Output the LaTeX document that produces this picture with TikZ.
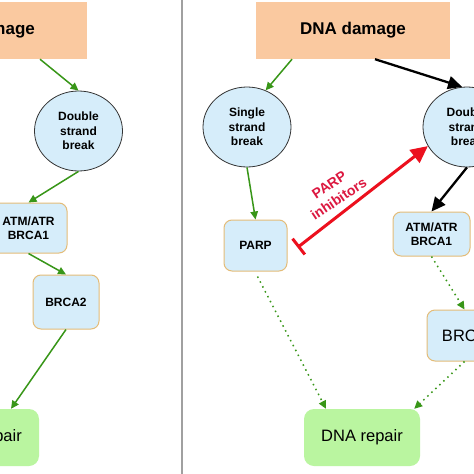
\documentclass[tikz,border=0pt]{standalone}
\usepackage{fontspec}
\setmainfont{Liberation Sans}
\usetikzlibrary{shapes.geometric,arrows.meta}
\definecolor{peach}{RGB}{250,201,160}
\definecolor{lblue}{RGB}{214,237,250}
\definecolor{tan}{RGB}{228,188,120}
\definecolor{lgreen}{RGB}{186,245,160}
\definecolor{agreen}{RGB}{56,150,24}
\definecolor{ared}{RGB}{236,16,30}
\definecolor{crim}{RGB}{220,24,64}
\definecolor{divg}{RGB}{160,160,160}
\tikzset{
  dmgbox/.style={rectangle, fill=peach, minimum width=194pt, minimum height=57pt, inner sep=0pt,
    font=\fontsize{17}{20}\selectfont\bfseries},
  brk/.style={ellipse, fill=lblue, draw=black!80, line width=0.8pt, minimum width=88pt, minimum height=80pt,
    inner sep=0pt, align=center, font=\fontsize{12}{14.5}\selectfont\bfseries},
  protbox/.style={rectangle, rounded corners=8pt, fill=lblue, draw=tan, line width=1pt, inner sep=0pt,
    align=center, font=\fontsize{12}{14}\selectfont\bfseries},
  repbox/.style={rectangle, rounded corners=10pt, fill=lgreen, minimum width=116pt, minimum height=57pt,
    inner sep=0pt, font=\fontsize{16.5}{19}\selectfont},
  garrow/.style={draw=agreen, line width=1.5pt, -{Triangle[length=8pt,width=7.5pt]}},
  gdots/.style={draw=agreen, line width=1.5pt, dash pattern=on 1.5pt off 4pt, -{Triangle[length=8pt,width=7.5pt]}},
  karrow/.style={draw=black, line width=2.3pt, -{Triangle[length=14pt,width=13pt]}},
}
\begin{document}
\begin{tikzpicture}[x=1pt,y=-1pt]
\useasboundingbox (0,0) rectangle (474,474);
\clip (0,0) rectangle (474,474);
\fill[white] (0,0) rectangle (474,474);
\draw[divg, line width=1.2pt] (182,0) -- (182,474);
% left panel
\node[dmgbox, minimum width=210pt] (dmgL) at (-18,30.5) {DNA damage};
\node[brk] (dsbL) at (78.5,131) {Double\\strand\\break};
\node[protbox, minimum width=77pt, minimum height=50pt] (atmL) at (28.5,228) {ATM/ATR\\BRCA1};
\node[protbox, minimum width=66pt, minimum height=54pt] (brcaL) at (66,302) {BRCA2};
\node[repbox] (repL) at (-19,437.5) {DNA repair};
\draw[garrow] ([xshift=58pt]dmgL.south) -- (dsbL.north);
\draw[garrow] (dsbL.south) -- (atmL.north);
\draw[garrow] (atmL.south) -- (brcaL.north);
\draw[garrow] (brcaL.south) -- ([xshift=30pt]repL.north);
% right panel
\node[dmgbox] (dmgR) at (353,30.5) {DNA damage};
\node[brk] (ssb) at (247,127) {Single\\strand\\break};
\node[brk] (dsbR) at (467,127) {Double\\strand\\break};
\node[protbox, minimum width=63pt, minimum height=51pt] (parp) at (255.5,245.5) {PARP};
\node[protbox, minimum width=77pt, minimum height=44pt] (atmR) at (431.5,234) {ATM/ATR\\BRCA1};
\node[protbox, minimum width=85pt, minimum height=51pt, font=\fontsize{16.5}{19}\selectfont] (brcaR) at (469.5,335.5) {BRCA2};
\node[repbox] (repR) at (362,437.5) {DNA repair};
\draw[garrow] ([xshift=-61pt]dmgR.south) -- (ssb.63);
\draw[karrow] ([xshift=22pt]dmgR.south) -- (dsbR.97);
\draw[garrow] (ssb.south) -- (parp.north);
\draw[karrow] (dsbR.south) -- (atmR.north);
\draw[gdots] (atmR.south) -- ([xshift=-5pt]brcaR.north);
\draw[gdots] ([xshift=-5pt]brcaR.south) -- ([xshift=-6pt]repR.north east);
\draw[gdots] ([xshift=2pt,yshift=-5pt]parp.south) -- ([xshift=-36pt]repR.north);
\coordinate (tbar) at ([xshift=10pt,yshift=-2pt]parp.east);
\draw[ared, line width=3pt, {Bar[width=20pt,line width=3pt]}-{Triangle[length=17pt,width=16pt]}] (tbar) -- (dsbR.206);
\node[text=crim, rotate=34, align=center, font=\fontsize{14}{17}\selectfont\bfseries] (lab) at (334,192) {PARP\\inhibitors};
\end{tikzpicture}
\end{document}
